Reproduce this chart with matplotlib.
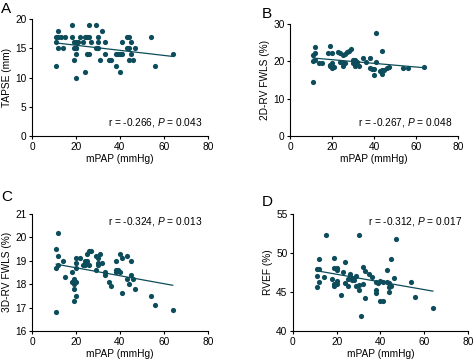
import matplotlib
matplotlib.use('Agg')
import matplotlib.pyplot as plt

plt.rcParams['font.family'] = 'Liberation Sans'
plt.rcParams['mathtext.fontset'] = 'custom'
plt.rcParams['mathtext.it'] = 'Liberation Sans:italic'
plt.rcParams['mathtext.rm'] = 'Liberation Sans'

DOT = '#0d4c5b'

# Panel A - TAPSE
a_x = [11, 11, 11, 12, 12, 12, 13, 14, 15, 18, 18, 19, 19, 19, 20, 20, 20, 20, 20,
       21, 22, 23, 24, 24, 25, 25, 26, 26, 26, 27, 29, 29, 30, 30, 30, 31, 32, 33, 33,
       35, 36, 38, 38, 39, 40, 40, 41, 41, 43, 43, 44, 44, 44, 45, 45, 46, 47, 54, 56, 64]
a_y = [17, 16, 12, 17, 18, 15, 17, 15, 17, 19, 17, 15, 16, 13, 16, 15, 10, 14, 15,
       16, 17, 16, 17, 11, 17, 14, 19, 17, 14, 16, 19, 15, 17, 16, 15, 13, 18, 16, 14,
       13, 13, 14, 12, 14, 11, 14, 14, 16, 17, 15, 17, 15, 13, 16, 14, 13, 15, 17, 12, 14]
a_fit = [15.9, 13.6]

# Panel B - 2D-RV FWLS
b_x = [11, 11, 11, 12, 12, 12, 14, 15, 18, 19, 19, 19, 20, 20, 20, 21, 23, 24, 24,
       25, 25, 25, 26, 26, 27, 28, 29, 30, 30, 31, 31, 32, 33, 35, 36, 38, 38, 39, 40,
       40, 41, 41, 43, 44, 44, 44, 45, 46, 47, 54, 56, 64]
b_y = [14.4, 21.8, 20.2, 22.2, 23.8, 20.3, 19.5, 19.5, 22.3, 24.2, 19.0, 18.7, 22.2,
       19.5, 18.2, 18.5, 22.5, 22.2, 19.8, 21.8, 19.5, 18.7, 22.0, 19.7, 22.5, 22.8,
       23.3, 20.5, 19.5, 20.3, 18.8, 19.8, 18.7, 21.0, 19.8, 20.8, 18.3, 18.0, 16.4,
       18.0, 27.6, 19.9, 17.5, 22.9, 16.5, 17.8, 17.8, 18.2, 18.5, 18.1, 18.2, 18.5]
b_fit = [20.9, 18.3]

# Panel C - 3D-RV FWLS
c_x = [11, 11, 11, 12, 12, 12, 14, 15, 18, 18, 19, 19, 19, 19, 20, 20, 20, 20, 20,
       22, 23, 24, 24, 25, 25, 26, 26, 27, 29, 29, 30, 30, 30, 31, 32, 33, 33, 35, 36,
       38, 38, 38, 39, 40, 40, 41, 41, 43, 43, 44, 45, 45, 46, 47, 54, 56, 64]
c_y = [16.8, 19.5, 18.7, 20.2, 19.2, 18.8, 19.0, 18.3, 18.5, 18.1, 18.0, 17.8, 17.3,
       18.2, 19.1, 18.9, 18.7, 17.5, 18.1, 19.1, 18.8, 18.8, 19.0, 19.3, 19.0, 19.4,
       18.8, 19.4, 19.2, 18.6, 19.1, 18.9, 18.8, 19.3, 18.9, 18.5, 18.4, 18.1, 17.9,
       19.0, 18.6, 18.5, 18.6, 19.3, 18.5, 19.1, 17.6, 19.2, 18.2, 18.0, 19.0, 18.4,
       18.2, 17.8, 17.5, 17.1, 16.9]
c_fit = [18.85, 17.95]

# Panel D - RVEF
d_x = [11, 11, 11, 12, 12, 12, 14, 15, 18, 19, 19, 19, 19, 20, 20, 20, 20, 22, 23,
       24, 24, 25, 25, 26, 26, 27, 27, 28, 29, 29, 30, 30, 30, 31, 32, 32, 33, 33, 35,
       36, 38, 38, 38, 39, 40, 40, 41, 41, 43, 43, 44, 44, 44, 45, 45, 46, 47, 54, 56, 64]
d_y = [47.9, 47.0, 45.6, 49.2, 47.9, 46.3, 46.9, 52.3, 46.7, 49.3, 48.0, 46.0, 45.8,
       48.0, 47.8, 46.4, 46.0, 44.6, 47.5, 48.8, 46.2, 45.7, 46.7, 47.3, 47.0, 46.5,
       46.8, 46.5, 45.8, 47.0, 52.3, 45.2, 45.9, 41.9, 48.2, 46.0, 47.7, 44.2, 47.3,
       46.9, 46.3, 45.3, 44.9, 46.2, 43.9, 46.4, 43.9, 46.3, 47.8, 46.3, 45.6, 45.0,
       46.2, 49.2, 45.8, 46.8, 51.8, 46.3, 44.4, 43.0]
d_fit = [47.7, 45.1]

fit_x = [11, 64]

panels = [
    ('A', [0.0675, 0.626, 0.371, 0.322], a_x, a_y, a_fit, 'TAPSE (mm)', (0, 20), [0, 5, 10, 15, 20],
     'r = -0.266, $P$ = 0.043', 2.4, (0.003, 0.975)),
    ('B', [0.612, 0.626, 0.354, 0.308], b_x, b_y, b_fit, '2D-RV FWLS (%)', (0, 30), [0, 10, 20, 30],
     'r = -0.267, $P$ = 0.048', 3.75, (0.553, 0.962)),
    ('C', [0.0675, 0.0907, 0.371, 0.322], c_x, c_y, c_fit, '3D-RV FWLS (%)', (16, 21), [16, 17, 18, 19, 20, 21],
     'r = -0.324, $P$ = 0.013', 20.66, (0.003, 0.46)),
    ('D', [0.618, 0.0907, 0.369, 0.322], d_x, d_y, d_fit, 'RVEF (%)', (40, 55), [40, 45, 50, 55],
     'r = -0.312, $P$ = 0.017', 54.0, (0.553, 0.445)),
]

fig = plt.figure(figsize=(4.74, 3.64), dpi=100)

for letter, rect, xs, ys, fit, ylabel, ylim, yticks, stat, stat_y, lpos in panels:
    ax = fig.add_axes(rect)
    ax.scatter(xs, ys, s=14, color=DOT, linewidths=0, zorder=3)
    ax.plot(fit_x, fit, color=DOT, linewidth=0.9, zorder=2)
    ax.set_xlim(0, 80)
    ax.set_ylim(*ylim)
    ax.set_xticks([0, 20, 40, 60, 80])
    ax.set_yticks(yticks)
    ax.spines['top'].set_visible(False)
    ax.spines['right'].set_visible(False)
    ax.spines['left'].set_linewidth(0.8)
    ax.spines['bottom'].set_linewidth(0.8)
    ax.tick_params(labelsize=7.3, length=2.5, width=0.8, pad=1.5)
    ax.set_xlabel('mPAP (mmHg)', fontsize=7.3, labelpad=2)
    ax.set_ylabel(ylabel, fontsize=7.3, labelpad=2)
    ax.text(77.5, stat_y, stat, fontsize=7.3, ha='right', va='center')
    fig.text(lpos[0], lpos[1], letter, fontsize=11, ha='left', va='center')

fig.savefig('out.png', dpi=100)
